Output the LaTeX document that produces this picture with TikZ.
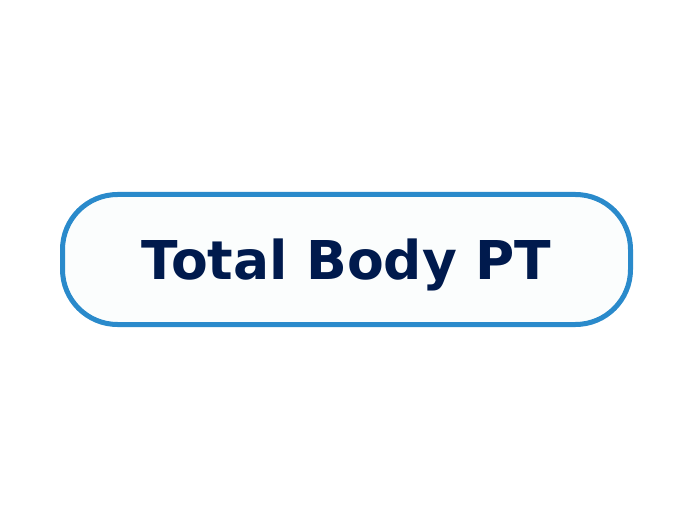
\documentclass[tikz,border=0pt]{standalone}
\usepackage{fontspec}
\setmainfont{DejaVu Sans}
\definecolor{boxblue}{HTML}{2A8ACB}
\definecolor{boxfill}{HTML}{FBFDFD}
\definecolor{navy}{HTML}{001A4D}
\begin{document}
\begin{tikzpicture}[x=1pt,y=1pt]
	\useasboundingbox (0,0) rectangle (696,520);
	\draw[draw=boxblue,line width=5pt,fill=boxfill,rounded corners=55pt] (62.5,195.5) rectangle (630.5,325.5);
	\node[anchor=base,text=navy,font=\fontsize{53.5}{60}\selectfont\bfseries,inner sep=0pt] (title) at (346.5,240) {Total Body PT};
\end{tikzpicture}
\end{document}
